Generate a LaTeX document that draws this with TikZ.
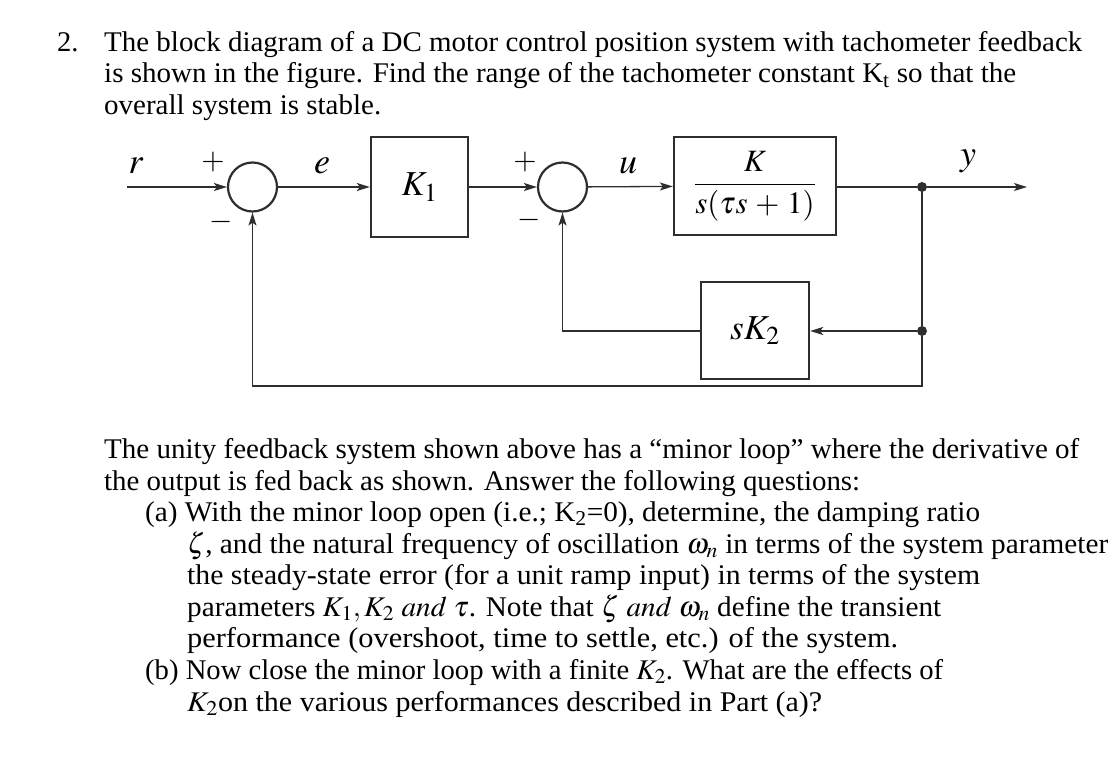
\documentclass[tikz,border=0pt]{standalone}
\usepackage{mathptmx}
\usepackage{fontspec}
\setmainfont{Liberation Serif}
\usetikzlibrary{arrows.meta}
\definecolor{dgray}{HTML}{2E2E2E}
\newcommand{\myline}[4]{\node[txt] (#1) at #2 {\resizebox{#3}{\height}{#4}};}
\begin{document}
\begin{tikzpicture}[x=1pt,y=-1pt,
  txt/.style={anchor=base west,inner sep=0pt,font=\fontsize{28.5}{32}\selectfont},
  blk/.style={draw=dgray,line width=2.3pt,inner sep=0pt,font=\fontsize{35}{37}\selectfont},
  sumc/.style={circle,draw=dgray,line width=2.2pt,minimum size=49pt,inner sep=0pt},
  wire/.style={draw=dgray,line width=1.3pt},
  arr/.style={wire,-{Stealth[length=13pt,width=8pt,inset=3pt]}},
  jdot/.style={circle,fill=dgray,inner sep=0pt,minimum size=10pt},
  lab/.style={inner sep=0pt,font=\fontsize{36}{38}\selectfont},
  sgn/.style={inner sep=0pt,font=\fontsize{30}{32}\selectfont}]
\fill[white] (0,0) rectangle (1120,760);
\useasboundingbox (0,0) rectangle (1120,760);

% ---------- question text ----------
\node[txt] (num) at (57,52) {2.};
\myline{l1}{(104,52)}{978pt}{The block diagram of a DC motor control position system with tachometer feedback}
\myline{l2}{(104,83)}{912pt}{is shown in the figure. Find the range of the tachometer constant K\textsubscript{t} so that the}
\myline{l3}{(104,114)}{277pt}{overall system is stable.}

% ---------- block diagram ----------
\coordinate (rin) at (127,187);
\node[sumc] (s1) at (252.5,187) {};
\node[blk,minimum width=97pt,minimum height=100pt] (k1) at (419.5,187) {$K_1$};
\node[sumc] (s2) at (562.5,187) {};
\node[blk,font=\fontsize{31}{33}\selectfont,minimum width=162pt,minimum height=98pt] (g) at (755,186) {$\displaystyle\frac{K}{s(\tau s\,+\,1)}$};
\node[jdot] (j1) at (922,187) {};
\coordinate (yout) at (1027,187);
\node[jdot] (j2) at (922,331) {};
\node[blk,minimum width=108pt,minimum height=97pt] (h) at (755,330.5) {$sK_2$};
\coordinate (m1) at (562.5,331);
\coordinate (b1) at (922,386);
\coordinate (b2) at (252.5,386);

\draw[arr] (rin) -- (s1);
\draw[arr] (s1) -- (k1);
\draw[arr] (k1) -- (s2);
\draw[arr] (s2) -- (g);
\draw[wire] (g.east |- j1) -- (j1);
\draw[arr] (j1) -- (yout);
\draw[wire] (j1) -- (j2);
\draw[arr,line width=1.8pt] (j2) -- (h.east |- j2);
\draw[arr] (h.west |- m1) -- (m1) -- (s2.south);
\draw[arr] (j2) -- (b1) -- (b2) -- (s1.south);

\node[lab] (lr) at (136,166) {$r$};
\node[sgn] (p1) at (213,162) {$+$};
\node[sgn] (n1) at (221,222) {$-$};
\node[lab] (le) at (322,166) {$e$};
\node[sgn] (p2) at (525,162) {$+$};
\node[sgn] (n2) at (529,220) {$-$};
\node[lab] (lu) at (628,166) {$u$};
\node[lab] (ly) at (968,161) {$y$};

% ---------- questions ----------
\myline{p1l}{(104,458)}{975pt}{The unity feedback system shown above has a “minor loop” where the derivative of}
\myline{p2l}{(104,490)}{756pt}{the output is fed back as shown. Answer the following questions:}
\myline{a1}{(145,521)}{835pt}{(a) With the minor loop open (i.e.; K\textsubscript{2}=0), determine, the damping ratio}
\myline{a2}{(187,553)}{921pt}{$\zeta$, and the natural frequency of oscillation $\omega_n$ in terms of the system parameter}
\myline{a3}{(187,584)}{793pt}{the steady-state error (for a unit ramp input) in terms of the system}
\myline{a4}{(187,616)}{754pt}{parameters $K_1, K_2\ \mathit{and}\ \tau$. Note that $\zeta\ \mathit{and}\ \omega_n$ define the transient}
\myline{a5}{(187,647)}{711pt}{performance (overshoot, time to settle, etc.) of the system.}
\myline{b1l}{(145,679)}{798pt}{(b) Now close the minor loop with a finite $K_2$. What are the effects of}
\myline{b2l}{(187,711)}{635pt}{$K_2$on the various performances described in Part (a)?}
\end{tikzpicture}
\end{document}
